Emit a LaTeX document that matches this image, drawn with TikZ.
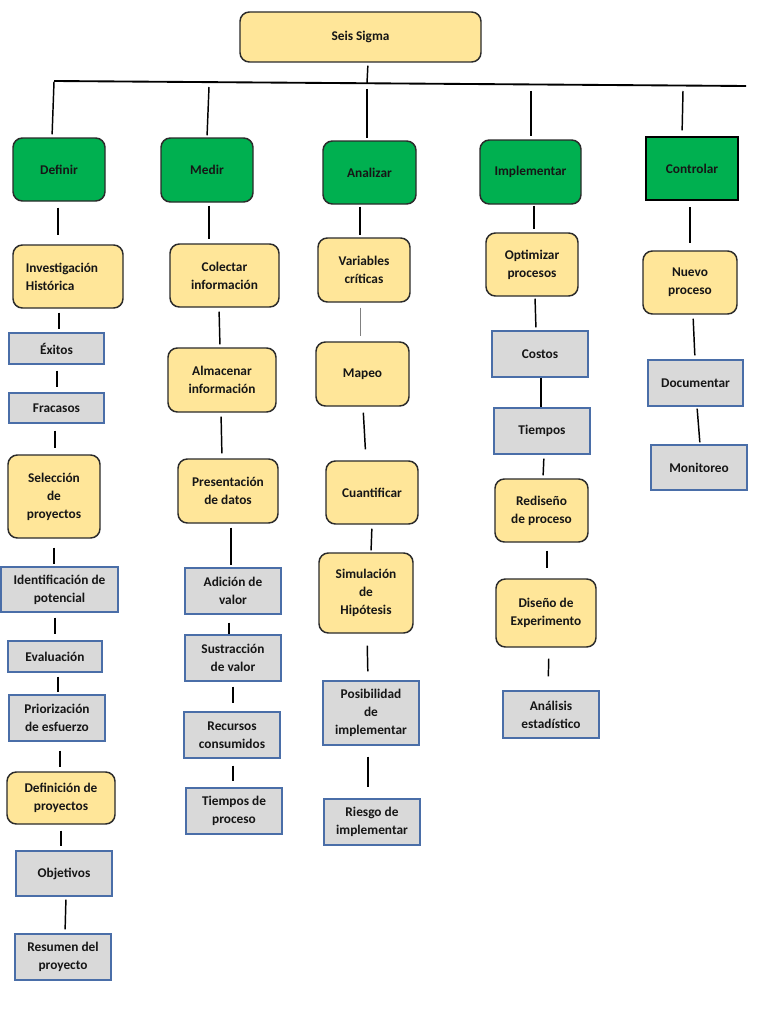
\documentclass[tikz,border=0pt]{standalone}
\usepackage{fontspec}
\setmainfont{Carlito}
\definecolor{yel}{HTML}{FFE699}
\definecolor{grn}{HTML}{00B050}
\definecolor{gry}{HTML}{D9D9D9}
\definecolor{blu}{HTML}{4A6EA8}
\definecolor{bdr}{HTML}{2B2B2B}
\definecolor{txt}{HTML}{161616}
\newcommand\cn[6]{\draw[conn,shorten <=#5pt,shorten >=#6pt] (#1.south -| #3,0) -- (#2.north -| #4,0);}
\begin{document}
\begin{tikzpicture}[x=0.75pt,y=-0.75pt,
  sz/.style 2 args={minimum width=#1*0.75pt, minimum height=#2*0.75pt},
  base/.style={font=\fontsize{10}{13.5}\selectfont\bfseries, text=txt, align=center, inner sep=0pt},
  ybox/.style={base, rounded corners=7pt, fill=yel, draw=bdr, line width=1.1pt},
  gbox/.style={base, rounded corners=7pt, fill=grn, draw=bdr, line width=1.1pt},
  sbox/.style={base, fill=gry, draw=blu, line width=1pt},
  conn/.style={line width=1.1pt, draw=black},
  bus/.style={line width=1.4pt, draw=black}]
\useasboundingbox (0,0) rectangle (768,1024);
\fill[white] (0,0) rectangle (768,1024);

% top
\node[ybox, sz={241}{50}] (seis) at (360.5,37) {Seis Sigma};
\coordinate (busL) at (54,81);
\coordinate (busR) at (746,86);
\coordinate (busM) at (367,83);
\coordinate (tD) at (54,82);
\coordinate (tM) at (209,87);
\coordinate (tA) at (367,89);
\coordinate (tI) at (531,91);
\coordinate (tC) at (683,91);
\draw[bus] (busL) -- (busR);
\draw[conn, shorten <=2.25pt] (seis.south -| 368,0) -- (busM);

% phase boxes
\node[gbox, sz={92}{63}] (def) at (59,169.5) {Definir};
\node[gbox, sz={92}{64}] (med) at (207,170) {Medir};
\node[gbox, sz={93}{63}] (ana) at (369.5,172.5) {Analizar};
\node[gbox, sz={101}{64}] (imp) at (530.5,172) {Implementar};
\node[base, fill=grn, draw=black, line width=1.8pt, sz={92}{63}] (con) at (692,168.5) {Controlar};

\draw[conn, shorten >=2.25pt] (tD) -- (def.north -| 52,0);
\draw[conn, shorten >=1.5pt] (tM) -- (med.north -| 207,0);
\draw[conn, shorten >=1.5pt] (tA) -- (ana.north -| 367,0);
\draw[conn, shorten >=2.25pt] (tI) -- (imp.north -| 531,0);
\draw[conn, shorten >=4pt] (tC) -- (con.north -| 682,0);

% column 1
\node[ybox, sz={110}{63}, align=left] (inv) at (68,276.5) {Investigación\hspace*{9pt}\\Histórica};
\node[sbox, sz={95}{31}] (exi) at (56.5,348.5) {Éxitos};
\node[sbox, sz={95}{30}] (fra) at (56.5,408) {Fracasos};
\node[ybox, sz={92}{83}] (sel) at (54,496.5) {Selección\\de\\proyectos};
\node[sbox, sz={117}{45}] (ide) at (59.5,589.5) {Identificación de\\potencial};
\node[sbox, sz={94}{31}] (eva) at (55,656.5) {Evaluación};
\node[sbox, sz={96}{46}] (pri) at (57,718) {Priorización\\de esfuerzo};
\node[ybox, sz={108}{52}] (defp) at (61,798) {Definición de\\proyectos};
\node[sbox, sz={96}{45}] (obj) at (64,873.5) {Objetivos};
\node[sbox, sz={96}{46}] (res) at (63,957) {Resumen del\\proyecto};

\cn{def}{inv}{58}{58}{4.5}{6.75}
\cn{inv}{exi}{59}{59}{3}{2.25}
\cn{exi}{fra}{57}{57}{4.5}{3.75}
\cn{fra}{sel}{55}{55}{5.25}{4.5}
\cn{sel}{ide}{54}{54}{6.75}{1.5}
\cn{ide}{eva}{55}{55}{3.75}{4.5}
\cn{eva}{pri}{58}{58}{3}{1.5}
\cn{pri}{defp}{60}{60}{6.75}{3}
\cn{defp}{obj}{61}{61}{4.5}{3}
\cn{obj}{res}{66}{65}{2.25}{3}

% column 2
\node[ybox, sz={109}{63}] (col) at (224.5,275.5) {Colectar\\información};
\node[ybox, sz={108}{64}] (alm) at (222,380) {Almacenar\\información};
\node[ybox, sz={100}{64}] (pre) at (228,491) {Presentación\\de datos};
\node[sbox, sz={96}{46}] (adi) at (233,591) {Adición de\\valor};
\node[sbox, sz={96}{46}] (sus) at (233,658) {Sustracción\\de valor};
\node[sbox, sz={96}{46}] (rec) at (232,735) {Recursos\\consumidos};
\node[sbox, sz={96}{46}] (tie) at (234,811) {Tiempos de\\proceso};

\cn{med}{col}{209}{209}{2.25}{3}
\cn{col}{alm}{219}{220}{3}{2.25}
\cn{alm}{pre}{221}{222}{3}{3.75}
\cn{pre}{adi}{231}{231}{3}{1.5}
\cn{adi}{sus}{229}{229}{6}{0}
\cn{sus}{rec}{233}{233}{3.75}{6}
\cn{rec}{tie}{233}{233}{5.25}{4.5}

% column 3
\node[ybox, sz={92}{64}] (var) at (364,270) {Variables\\críticas};
\node[ybox, sz={93}{64}] (map) at (362.5,374) {Mapeo};
\node[ybox, sz={92}{63}] (cua) at (372,492.5) {Cuantificar};
\node[ybox, sz={94}{80}] (sim) at (366,593) {Simulación\\de\\Hipótesis};
\node[sbox, sz={96}{64}] (pos) at (371,713) {Posibilidad\\de\\implementar};
\node[sbox, sz={96}{46}] (rie) at (372,822) {Riesgo de\\implementar};

\cn{ana}{var}{360}{360}{1.5}{1.5}
\draw[line width=0.6pt, draw=gray, shorten <=3.75pt, shorten >=3.75pt] (var.south -| 360,0) -- (map.north -| 360,0);
\cn{map}{cua}{363}{366}{4.5}{8.25}
\cn{cua}{sim}{372}{371}{3}{1.5}
\cn{sim}{pos}{367}{368}{9}{6.75}
\cn{pos}{rie}{368}{368}{8.25}{8.25}

% column 4
\node[ybox, sz={92}{63}] (opt) at (532,264.5) {Optimizar\\procesos};
\node[sbox, sz={96}{46}] (cos) at (540,354) {Costos};
\node[sbox, sz={96}{46}] (tim) at (542,431) {Tiempos};
\node[ybox, sz={93}{63}] (red) at (541.5,510.5) {Rediseño\\de proceso};
\node[ybox, sz={100}{68}] (dis) at (546,613) {Diseño de\\Experimento};
\node[sbox, sz={96}{47}] (est) at (551,714.5) {Análisis\\estadístico};

\cn{imp}{opt}{534}{534}{0.75}{2.25}
\cn{opt}{cos}{535}{536}{1.5}{2.25}
\cn{cos}{tim}{541}{541}{0}{0}
\cn{tim}{red}{544}{543}{3}{2.25}
\cn{red}{dis}{547}{547}{6}{7.5}
\cn{dis}{est}{549}{548}{8.25}{10.5}

% column 5
\node[ybox, sz={94}{63}] (nue) at (690,282.5) {Nuevo\\proceso};
\node[sbox, sz={95}{46}] (doc) at (695.5,383) {Documentar};
\node[sbox, sz={96}{45}] (mon) at (699,467.5) {Monitoreo};

\cn{con}{nue}{690}{690}{4.5}{5.25}
\cn{nue}{doc}{693}{695}{3}{3}
\cn{doc}{mon}{697}{700}{1.5}{1.5}
\end{tikzpicture}
\end{document}
